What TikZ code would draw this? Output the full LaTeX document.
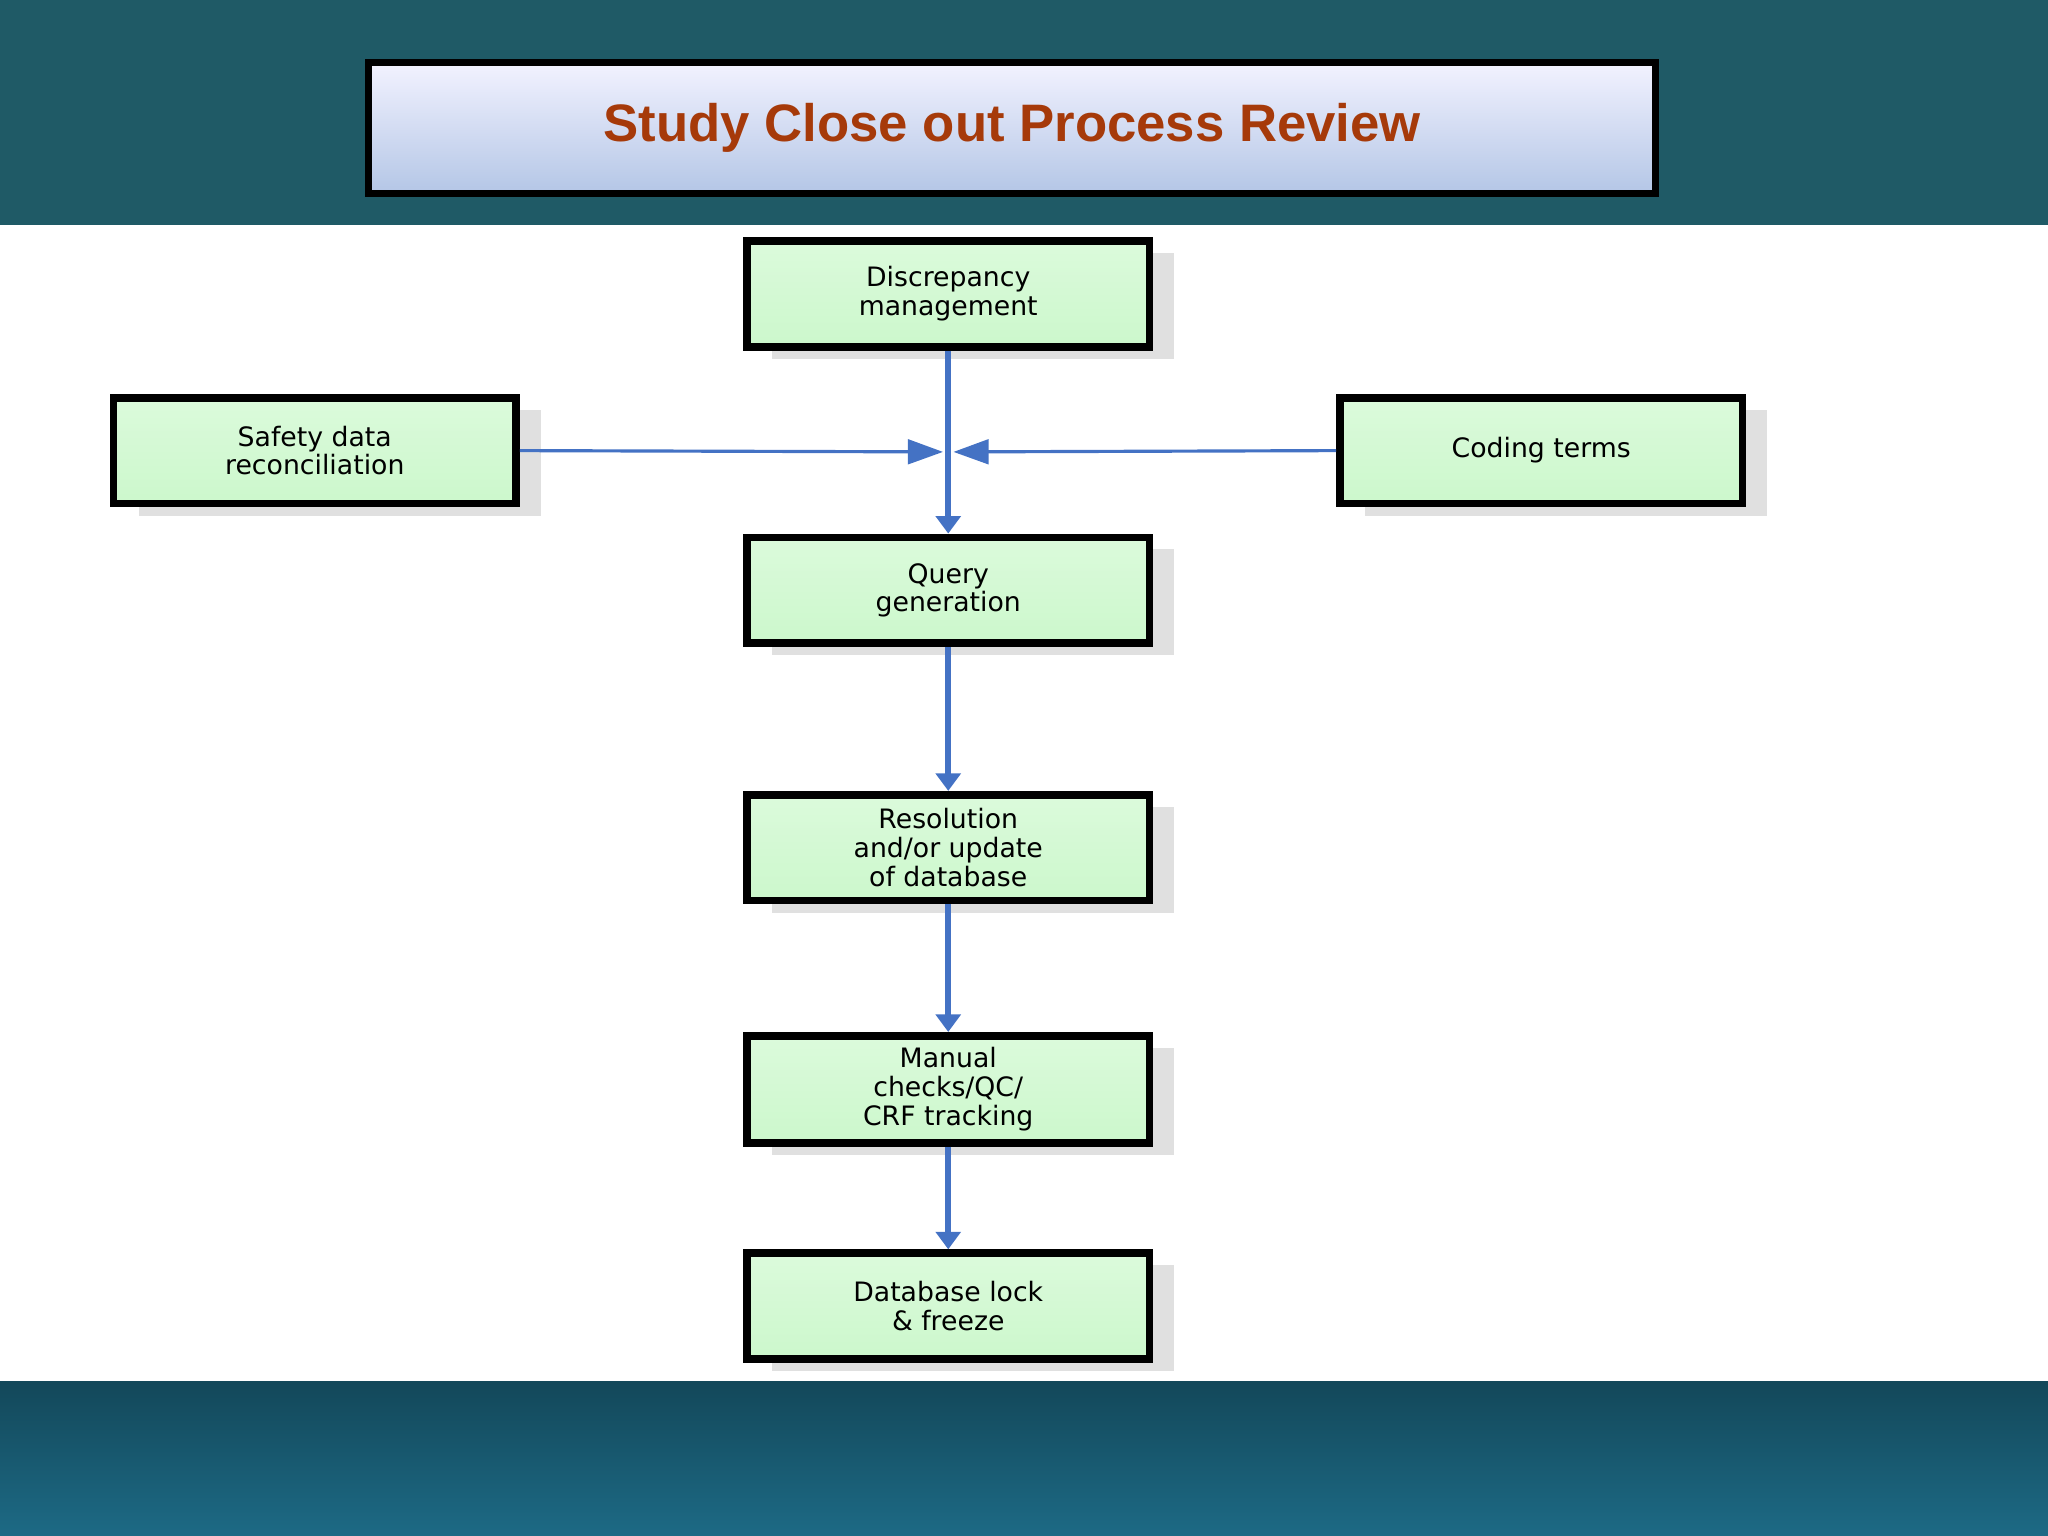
\documentclass[tikz,border=0pt]{standalone}
\usepackage{fontspec}
\setmainfont{DejaVu Sans}
\newfontfamily\titlefont{Liberation Sans}
\usetikzlibrary{arrows.meta,shadows}
\definecolor{teal1}{HTML}{1F5A66}
\definecolor{teal2}{HTML}{13485A}
\definecolor{teal3}{HTML}{1D6A85}
\definecolor{boxg}{HTML}{CCF8CC}
\definecolor{arrb}{HTML}{4472C4}
\definecolor{titr}{HTML}{A63A0A}
\begin{document}
\begin{tikzpicture}[x=0.01306cm,y=-0.01306cm,
  box/.style={draw=black,line width=2.2pt,top color=boxg!70!white,bottom color=boxg,
    minimum width=308*0.01306cm,minimum height=81*0.01306cm,align=center,
    font=\fontsize{7.6}{8.2}\selectfont,
    drop shadow={shadow xshift=0.25cm,shadow yshift=-0.12cm,fill=gray!40,opacity=0.6}},
  varr/.style={draw=arrb,line width=1.8pt,-{Triangle[width=7pt,length=5pt]}},
  harr/.style={draw=arrb,line width=0.9pt,-{Triangle[width=7pt,length=10pt]}}]
\useasboundingbox (0,0) rectangle (1568,1176);
\fill[teal1] (0,0) rectangle (1568,172);
\shade[top color=teal2,bottom color=teal3] (0,1058) rectangle (1568,1176);
\node[draw=black,line width=2pt,top color=blue!5!white,bottom color={rgb,255:red,180;green,198;blue,230},
  minimum width=985*0.01306cm,minimum height=100*0.01306cm,
  font=\titlefont\bfseries\fontsize{15}{17}\selectfont,text=titr] (title) at (775,98) {Study Close out Process Review};
\node[box] (disc) at (726,225) {Discrepancy\\management};
\node[box] (safe) at (241,345) {Safety data\\reconciliation};
\node[box] (code) at (1180,345) {Coding terms};
\node[box] (query) at (726,452) {Query\\generation};
\node[box] (res) at (726,649) {Resolution\\and/or update\\of database};
\node[box] (man) at (726,834) {Manual\\checks/QC/\\CRF tracking};
\node[box] (db) at (726,1000) {Database lock\\\& freeze};
\coordinate (jl) at (722,346);
\coordinate (jr) at (730,346);
\draw[harr] (safe.east) -- (jl);
\draw[harr] (code.west) -- (jr);
\draw[varr] (disc.south) -- (query.north);
\draw[varr] (query.south) -- (res.north);
\draw[varr] (res.south) -- (man.north);
\draw[varr] (man.south) -- (db.north);
\end{tikzpicture}
\end{document}
